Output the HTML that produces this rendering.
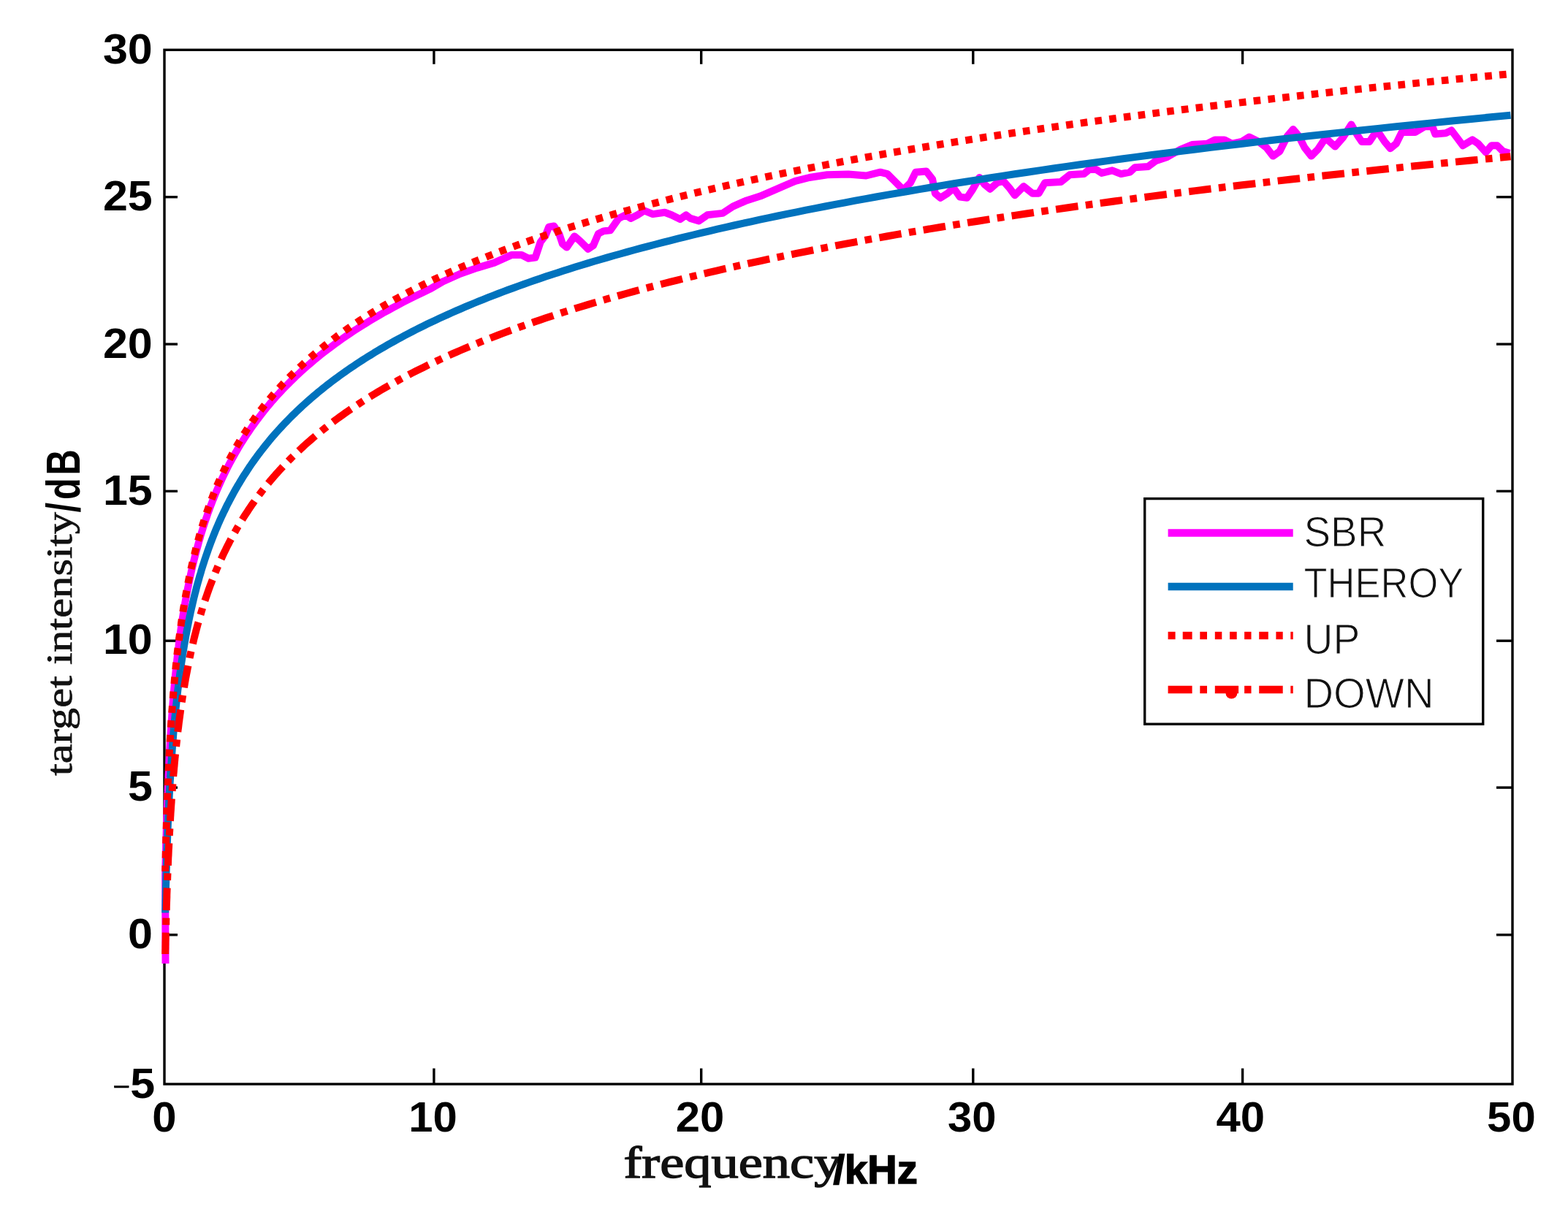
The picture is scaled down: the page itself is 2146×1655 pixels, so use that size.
<!DOCTYPE html>
<html lang="en"><head><meta charset="utf-8"><title>target intensity vs frequency</title>
<style>
html,body{margin:0;padding:0;background:#fff;}
body{width:2146px;height:1655px;overflow:hidden;}
svg{display:block;}
</style></head><body>
<svg width="2146" height="1655" viewBox="0 0 2146 1655">
<rect width="2146" height="1655" fill="#fff"/>
<g stroke="#000" stroke-width="3.4" fill="none">
<rect x="225.0" y="68.3" width="1845.0" height="1415.7"/>
<line x1="593.9" y1="1484.0" x2="593.9" y2="1462.5"/>
<line x1="593.9" y1="68.3" x2="593.9" y2="87.8"/>
<line x1="959.7" y1="1484.0" x2="959.7" y2="1462.5"/>
<line x1="959.7" y1="68.3" x2="959.7" y2="87.8"/>
<line x1="1331.8" y1="1484.0" x2="1331.8" y2="1462.5"/>
<line x1="1331.8" y1="68.3" x2="1331.8" y2="87.8"/>
<line x1="1700.6" y1="1484.0" x2="1700.6" y2="1462.5"/>
<line x1="1700.6" y1="68.3" x2="1700.6" y2="87.8"/>
<line x1="225.0" y1="269.7" x2="243.0" y2="269.7"/>
<line x1="2070.0" y1="269.7" x2="2048.0" y2="269.7"/>
<line x1="225.0" y1="471.1" x2="243.0" y2="471.1"/>
<line x1="2070.0" y1="471.1" x2="2048.0" y2="471.1"/>
<line x1="225.0" y1="672.4" x2="243.0" y2="672.4"/>
<line x1="2070.0" y1="672.4" x2="2048.0" y2="672.4"/>
<line x1="225.0" y1="877.2" x2="243.0" y2="877.2"/>
<line x1="2070.0" y1="877.2" x2="2048.0" y2="877.2"/>
<line x1="225.0" y1="1078.1" x2="243.0" y2="1078.1"/>
<line x1="2070.0" y1="1078.1" x2="2048.0" y2="1078.1"/>
<line x1="225.0" y1="1279.7" x2="243.0" y2="1279.7"/>
<line x1="2070.0" y1="1279.7" x2="2048.0" y2="1279.7"/>
</g>
<g fill="none" stroke-linecap="butt">
<polyline points="226.5,1319.0 226.2,1197.7 226.3,1194.0 226.3,1190.3 226.4,1186.6 226.5,1182.9 226.6,1179.3 226.7,1175.6 226.8,1171.9 226.9,1168.2 227.0,1164.5 227.1,1160.8 227.1,1157.1 227.2,1153.5 227.3,1149.8 227.5,1146.1 227.6,1142.4 227.7,1138.7 227.8,1135.0 227.9,1131.3 228.0,1127.7 228.1,1124.0 228.2,1120.3 228.4,1116.6 228.5,1112.9 228.6,1109.2 228.7,1105.5 228.9,1101.9 229.0,1098.2 229.1,1094.5 229.3,1090.8 229.4,1087.1 229.6,1083.4 229.7,1079.8 229.9,1076.1 230.0,1072.4 230.2,1068.7 230.4,1065.0 230.5,1061.3 230.7,1057.7 230.9,1054.0 231.0,1050.3 231.2,1046.6 231.4,1042.9 231.6,1039.2 231.8,1035.5 232.0,1031.9 232.2,1028.2 232.4,1024.5 232.6,1020.8 232.8,1017.1 233.0,1013.4 233.3,1009.8 233.5,1006.1 233.7,1002.4 234.0,998.7 234.2,995.0 234.5,991.3 234.7,987.7 235.0,984.0 235.2,980.3 235.5,976.6 235.8,972.9 236.1,969.2 236.3,965.6 236.6,961.9 236.9,958.2 237.2,954.5 237.6,950.8 237.9,947.2 238.2,943.5 238.5,939.8 238.9,936.1 239.2,932.4 239.6,928.7 239.9,925.1 240.3,921.4 240.7,917.7 241.1,914.0 241.5,910.3 241.9,906.7 242.3,903.0 242.7,899.3 243.1,895.6 243.6,891.9 244.0,888.3 244.5,884.6 244.9,880.9 245.4,877.2 245.9,873.5 246.4,869.9 246.9,866.2 247.4,862.5 247.9,858.8 248.5,855.1 249.0,851.5 249.6,847.8 250.2,844.1 250.8,840.4 251.4,836.8 252.0,833.1 252.6,829.4 253.2,825.7 253.9,822.0 254.6,818.4 255.2,814.7 255.9,811.0 256.6,807.3 257.4,803.7 258.1,800.0 258.9,796.3 259.6,792.6 260.4,789.0 261.2,785.3 262.0,781.6 262.9,777.9 263.7,774.3 264.6,770.6 265.5,766.9 266.4,763.3 267.3,759.6 268.3,755.9 269.3,752.2 270.3,748.6 271.3,744.9 272.3,741.2 273.4,737.6 274.4,733.9 275.5,730.2 276.7,726.5 277.8,722.9 279.0,719.2 280.2,715.5 281.4,711.9 282.7,708.2 283.9,704.5 285.2,700.9 286.6,697.2 287.9,693.5 289.3,689.9 290.7,686.2 292.2,682.5 293.7,678.9 295.2,675.2 296.7,671.5 298.3,667.9 299.9,664.2 301.5,660.6 303.2,656.9 304.9,653.2 306.7,649.6 308.5,645.9 310.3,642.3 312.1,638.6 314.0,634.9 316.0,631.3 318.0,627.6 320.0,624.0 322.1,620.3 324.2,616.7 326.3,613.0 328.5,609.4 330.8,605.7 333.1,602.1 335.4,598.4 337.8,594.8 340.3,591.1 342.8,587.5 345.3,583.8 347.9,580.2 350.6,576.5 353.3,572.9 356.1,569.2 358.9,565.6 361.8,561.9 364.7,558.3 367.8,554.7 370.8,551.0 374.0,547.4 377.2,543.7 380.5,540.1 383.8,536.5 387.2,532.8 390.7,529.2 394.3,525.6 398.0,521.9 401.7,518.3 405.5,514.7 409.4,511.1 413.3,507.4 417.4,503.8 421.5,500.2 425.7,496.6 430.0,492.9 434.4,489.3 438.9,485.7 443.5,482.1 448.2,478.5 453.0,474.9 457.9,471.2 462.9,467.6 468.0,464.0 473.2,460.4 478.5,456.8 483.9,453.2 489.5,449.6 495.1,446.0 500.9,442.4 506.8,438.8 512.8,435.2 519.0,431.6 525.3,428.0 531.7,424.5 538.3,420.9 545.0,417.3 551.8,413.7 558.8,410.1 565.9,406.5 573.2,403.0 580.6,399.4 588.2,395.8 606.6,385.2 630.0,374.7 653.3,366.6 676.6,359.6 699.9,349.1 713.9,349.1 723.2,353.7 732.6,352.6 739.6,331.6 746.6,322.3 751.2,310.6 758.2,309.4 765.2,319.9 769.9,333.9 775.7,338.6 786.2,323.4 793.2,329.3 804.9,340.9 811.9,336.2 818.9,319.9 825.9,316.4 835.2,315.3 846.8,298.9 856.2,294.3 863.2,298.9 872.5,294.3 881.8,288.4 893.5,293.1 909.8,290.8 919.1,294.3 930.8,300.1 939.0,294.3 944.8,298.9 956.5,302.4 968.1,294.3 989.1,291.9 1003.1,282.6 1021.8,274.4 1040.4,268.6 1071.5,255.1 1088.5,247.8 1107.8,243.0 1132.1,239.3 1161.2,238.6 1185.4,240.5 1204.8,235.7 1214.5,238.1 1224.2,247.8 1236.3,259.9 1246.0,250.2 1253.2,235.7 1267.8,234.5 1276.2,245.4 1279.9,264.8 1287.2,270.8 1296.8,264.8 1305.3,257.5 1313.8,269.6 1323.5,270.8 1330.8,259.9 1340.5,243.0 1347.7,252.7 1355.0,258.7 1364.7,250.2 1373.2,247.8 1381.7,257.5 1388.9,267.2 1401.0,255.1 1413.2,264.8 1421.6,264.8 1430.1,250.2 1451.9,249.0 1464.0,239.3 1483.4,238.1 1490.7,232.1 1500.4,232.1 1507.7,236.9 1522.2,233.3 1534.3,238.1 1546.4,235.7 1553.1,229.3 1571.3,228.0 1581.8,220.2 1597.4,214.9 1615.7,204.5 1631.4,198.0 1652.3,196.7 1662.7,191.4 1675.8,191.4 1686.2,196.7 1699.3,194.0 1709.7,187.5 1722.8,194.0 1733.2,201.9 1742.3,213.6 1751.5,207.1 1761.9,186.2 1769.8,177.1 1777.6,186.2 1785.4,201.9 1794.6,213.6 1803.7,204.5 1814.2,188.8 1827.2,200.6 1837.7,188.8 1849.4,170.5 1858.5,186.2 1863.8,194.0 1874.2,194.0 1884.6,178.4 1895.1,194.0 1902.9,203.2 1910.8,196.7 1918.6,181.0 1936.9,181.0 1949.9,173.2 1960.4,173.2 1964.3,183.6 1978.6,182.3 1986.5,178.4 1994.3,188.8 2002.1,199.3 2015.2,191.4 2023.0,196.7 2033.5,208.4 2041.3,199.3 2049.1,199.3 2057.0,207.1 2066.1,209.7" stroke="#ff00ff" stroke-width="10" stroke-linejoin="round"/>
<polyline points="226.2,1249.4 226.2,1246.8 226.3,1244.2 226.4,1241.6 226.4,1239.0 226.5,1236.4 226.5,1233.8 226.6,1231.2 226.7,1228.6 226.7,1226.0 226.8,1223.4 226.8,1220.8 226.9,1218.2 227.0,1215.6 227.0,1213.0 227.1,1210.4 227.2,1207.8 227.2,1205.2 227.3,1202.6 227.4,1200.0 227.5,1197.4 227.5,1194.8 227.6,1192.2 227.7,1189.6 227.8,1187.0 227.8,1184.4 227.9,1181.8 228.0,1179.2 228.1,1176.6 228.2,1174.0 228.3,1171.4 228.3,1168.8 228.4,1166.2 228.5,1163.6 228.6,1161.0 228.7,1158.4 228.8,1155.8 228.9,1153.2 229.0,1150.6 229.1,1148.0 229.2,1145.4 229.3,1142.8 229.4,1140.2 229.5,1137.6 229.6,1135.0 229.7,1132.4 229.8,1129.8 229.9,1127.2 230.0,1124.6 230.1,1122.0 230.2,1119.4 230.3,1116.8 230.5,1114.2 230.6,1111.6 230.7,1109.0 230.8,1106.4 231.0,1103.8 231.1,1101.2 231.2,1098.6 231.3,1096.0 231.5,1093.4 231.6,1090.8 231.7,1088.2 231.9,1085.6 232.0,1083.0 232.2,1080.4 232.3,1077.8 232.4,1075.2 232.6,1072.6 232.7,1070.0 232.9,1067.4 233.1,1064.8 233.2,1062.3 233.4,1059.7 233.5,1057.1 233.7,1054.5 233.9,1051.9 234.0,1049.3 234.2,1046.7 234.4,1044.1 234.6,1041.5 234.7,1038.9 234.9,1036.3 235.1,1033.7 235.3,1031.1 235.5,1028.5 235.7,1025.9 235.9,1023.3 236.1,1020.7 236.3,1018.1 236.5,1015.5 236.7,1012.9 236.9,1010.3 237.1,1007.7 237.3,1005.1 237.5,1002.5 237.8,999.9 238.0,997.3 238.2,994.7 238.5,992.1 238.7,989.5 238.9,986.9 239.2,984.3 239.4,981.7 239.7,979.1 239.9,976.5 240.2,973.9 240.5,971.3 240.7,968.7 241.0,966.1 241.3,963.5 241.6,960.9 241.9,958.3 242.1,955.7 242.4,953.1 242.7,950.5 243.0,947.9 243.3,945.3 243.6,942.7 244.0,940.1 244.3,937.5 244.6,934.9 244.9,932.3 245.3,929.7 245.6,927.1 246.0,924.5 246.3,921.9 246.7,919.3 247.0,916.7 247.4,914.1 247.8,911.5 248.1,908.9 248.5,906.3 248.9,903.7 249.3,901.1 249.7,898.5 250.1,895.9 250.5,893.3 250.9,890.7 251.4,888.1 251.8,885.5 252.2,882.9 252.7,880.3 253.1,877.7 253.6,875.1 254.0,872.5 254.5,869.9 255.0,867.3 255.5,864.7 256.0,862.1 256.5,859.5 257.0,856.9 257.5,854.3 258.0,851.7 258.5,849.1 259.1,846.5 259.6,843.9 260.2,841.3 260.7,838.7 261.3,836.1 261.9,833.5 262.5,830.9 263.1,828.3 263.7,825.7 264.3,823.1 264.9,820.5 265.5,817.9 266.2,815.3 266.8,812.7 267.5,810.1 268.2,807.5 268.8,804.9 269.5,802.3 270.2,799.7 270.9,797.1 271.7,794.5 272.4,791.9 273.1,789.3 273.9,786.7 274.7,784.1 275.4,781.5 276.2,778.9 277.0,776.3 277.8,773.7 278.7,771.1 279.5,768.5 280.3,765.9 281.2,763.3 282.1,760.7 283.0,758.1 283.9,755.5 284.8,752.9 285.7,750.3 286.7,747.7 287.6,745.1 288.6,742.5 289.6,739.9 290.6,737.3 291.6,734.7 292.6,732.1 293.7,729.5 294.7,726.9 295.8,724.3 296.9,721.7 298.0,719.1 299.1,716.5 300.3,713.9 301.4,711.3 302.6,708.7 303.8,706.2 305.0,703.6 306.2,701.0 307.5,698.4 308.8,695.8 310.0,693.2 311.3,690.6 312.7,688.0 314.0,685.4 315.4,682.8 316.8,680.2 318.2,677.6 319.6,675.0 321.0,672.4 322.5,669.8 324.0,667.2 325.5,664.6 327.1,662.0 328.6,659.4 330.2,656.8 331.8,654.2 333.4,651.6 335.1,649.0 336.8,646.4 338.5,643.8 340.2,641.2 341.9,638.6 343.7,636.0 345.5,633.4 347.4,630.8 349.2,628.2 351.1,625.6 353.0,623.0 355.0,620.4 357.0,617.8 359.0,615.2 361.0,612.6 363.1,610.0 365.2,607.4 367.3,604.8 369.4,602.2 371.6,599.6 373.8,597.0 376.1,594.4 378.4,591.8 380.7,589.2 383.1,586.6 385.5,584.0 387.9,581.4 390.4,578.8 392.9,576.2 395.4,573.6 398.0,571.0 400.6,568.4 403.3,565.8 406.0,563.2 408.7,560.6 411.5,558.0 414.3,555.4 417.1,552.8 420.0,550.2 423.0,547.6 426.0,545.0 429.0,542.4 432.1,539.8 435.2,537.2 438.4,534.6 441.6,532.0 444.9,529.4 448.2,526.8 451.5,524.2 455.0,521.6 458.4,519.0 461.9,516.4 465.5,513.8 469.1,511.2 472.8,508.6 476.5,506.0 480.3,503.4 484.2,500.8 488.1,498.2 492.0,495.6 496.0,493.0 500.1,490.4 504.3,487.8 508.5,485.2 512.7,482.6 517.0,480.0 521.4,477.4 525.9,474.8 530.4,472.2 535.0,469.6 539.7,467.0 544.4,464.4 549.2,461.8 554.1,459.2 559.0,456.6 564.0,454.0 569.1,451.4 574.3,448.8 579.5,446.2 584.8,443.6 590.2,441.0 595.7,438.4 601.3,435.8 606.9,433.2 612.7,430.6 618.5,428.0 624.4,425.4 630.4,422.8 636.5,420.2 642.6,417.6 648.9,415.0 655.2,412.4 661.7,409.8 668.2,407.2 674.9,404.6 681.6,402.0 688.5,399.4 695.4,396.8 702.5,394.2 709.6,391.6 716.9,389.0 724.3,386.4 731.7,383.8 739.3,381.2 747.0,378.6 754.9,376.0 762.8,373.4 770.8,370.8 779.0,368.2 787.3,365.6 795.7,363.0 804.3,360.4 813.0,357.8 821.8,355.2 830.7,352.6 839.8,350.0 849.0,347.5 858.3,344.9 867.8,342.3 877.4,339.7 887.2,337.1 897.1,334.5 907.1,331.9 917.3,329.3 927.7,326.7 938.2,324.1 948.9,321.5 959.7,318.9 970.7,316.3 981.8,313.7 993.1,311.1 1004.6,308.5 1016.3,305.9 1028.1,303.3 1040.1,300.7 1052.3,298.1 1064.7,295.5 1077.2,292.9 1090.0,290.3 1102.9,287.7 1116.0,285.1 1129.4,282.5 1142.9,279.9 1156.6,277.3 1170.5,274.7 1184.7,272.1 1199.0,269.5 1213.6,266.9 1228.3,264.3 1243.3,261.7 1258.5,259.1 1274.0,256.5 1289.7,253.9 1305.6,251.3 1321.7,248.7 1338.1,246.1 1354.7,243.5 1371.6,240.9 1388.7,238.3 1406.1,235.7 1423.8,233.1 1441.7,230.5 1459.8,227.9 1478.3,225.3 1497.0,222.7 1516.0,220.1 1535.3,217.5 1554.9,214.9 1574.7,212.3 1594.9,209.7 1615.3,207.1 1636.1,204.5 1657.2,201.9 1678.6,199.3 1700.3,196.7 1722.3,194.1 1744.6,191.5 1767.3,188.9 1790.4,186.3 1813.7,183.7 1837.5,181.1 1861.5,178.5 1886.0,175.9 1910.8,173.3 1935.9,170.7 1961.5,168.1 1987.4,165.5 2013.7,162.9 2040.4,160.3 2067.5,157.7" stroke="#0072bd" stroke-width="10" stroke-linejoin="round"/>
<polyline points="2067.5,101.1 2040.4,103.7 2013.7,106.3 1987.4,108.9 1961.5,111.5 1935.9,114.1 1910.8,116.7 1886.0,119.3 1861.5,121.9 1837.5,124.5 1813.7,127.1 1790.4,129.7 1767.3,132.3 1744.6,134.9 1722.3,137.5 1700.3,140.1 1678.6,142.7 1657.2,145.3 1636.1,147.9 1615.3,150.5 1594.9,153.1 1574.7,155.7 1554.9,158.3 1535.3,160.9 1516.0,163.5 1497.0,166.1 1478.3,168.7 1459.8,171.3 1441.7,173.9 1423.8,176.5 1406.1,179.1 1388.7,181.7 1371.6,184.3 1354.7,186.9 1338.1,189.5 1321.7,192.1 1305.6,194.6 1289.7,197.2 1274.0,199.8 1258.5,202.4 1243.3,205.0 1228.3,207.6 1213.6,210.2 1199.0,212.8 1184.7,215.4 1170.5,218.0 1156.6,220.6 1142.9,223.2 1129.4,225.8 1116.0,228.4 1102.9,231.0 1090.0,233.6 1077.2,236.2 1064.7,238.8 1052.3,241.4 1040.1,244.0 1028.1,246.6 1016.3,249.2 1004.6,251.8 993.1,254.4 981.8,257.0 970.7,259.6 959.7,262.2 948.9,264.8 938.2,267.4 927.7,270.0 917.3,272.6 907.1,275.2 897.1,277.8 887.2,280.4 877.4,283.0 867.8,285.6 858.3,288.2 849.0,290.8 839.8,293.4 830.7,296.0 821.8,298.6 813.0,301.2 804.3,303.8 795.7,306.4 787.3,309.0 779.0,311.6 770.8,314.2 762.8,316.8 754.9,319.4 747.0,322.0 739.3,324.6 731.7,327.2 724.3,329.8 716.9,332.4 709.6,335.0 702.5,337.6 695.4,340.2 688.5,342.8 681.6,345.4 674.9,348.0 668.2,350.6 661.7,353.2 655.2,355.8 648.9,358.4 642.6,361.0 636.5,363.6 630.4,366.2 624.4,368.8 618.5,371.4 612.7,374.0 606.9,376.6 601.3,379.2 595.7,381.8 590.2,384.4 584.8,387.0 579.5,389.6 574.3,392.2 569.1,394.8 564.0,397.4 559.0,400.0 554.1,402.6 549.2,405.2 544.4,407.8 539.7,410.4 535.0,413.0 530.4,415.6 525.9,418.2 521.4,420.8 517.0,423.4 512.7,426.0 508.5,428.6 504.3,431.2 500.1,433.8 496.0,436.4 492.0,439.0 488.1,441.6 484.2,444.2 480.3,446.8 476.5,449.4 472.8,452.0 469.1,454.6 465.5,457.2 461.9,459.8 458.4,462.4 455.0,465.0 451.5,467.6 448.2,470.2 444.9,472.8 441.6,475.4 438.4,478.0 435.2,480.6 432.1,483.2 429.0,485.8 426.0,488.4 423.0,491.0 420.0,493.6 417.1,496.2 414.3,498.8 411.5,501.4 408.7,504.0 406.0,506.6 403.3,509.2 400.6,511.8 398.0,514.4 395.4,517.0 392.9,519.6 390.4,522.2 387.9,524.8 385.5,527.4 383.1,530.0 380.7,532.6 378.4,535.2 376.1,537.8 373.8,540.4 371.6,543.0 369.4,545.6 367.3,548.2 365.2,550.7 363.1,553.3 361.0,555.9 359.0,558.5 357.0,561.1 355.0,563.7 353.0,566.3 351.1,568.9 349.2,571.5 347.4,574.1 345.5,576.7 343.7,579.3 341.9,581.9 340.2,584.5 338.5,587.1 336.8,589.7 335.1,592.3 333.4,594.9 331.8,597.5 330.2,600.1 328.6,602.7 327.1,605.3 325.5,607.9 324.0,610.5 322.5,613.1 321.0,615.7 319.6,618.3 318.2,620.9 316.8,623.5 315.4,626.1 314.0,628.7 312.7,631.3 311.3,633.9 310.0,636.5 308.8,639.1 307.5,641.7 306.2,644.3 305.0,646.9 303.8,649.5 302.6,652.1 301.4,654.7 300.3,657.3 299.1,659.9 298.0,662.5 296.9,665.1 295.8,667.7 294.7,670.3 293.7,672.9 292.6,675.5 291.6,678.1 290.6,680.7 289.6,683.3 288.6,685.9 287.6,688.5 286.7,691.1 285.7,693.7 284.8,696.3 283.9,698.9 283.0,701.5 282.1,704.1 281.2,706.7 280.3,709.3 279.5,711.9 278.7,714.5 277.8,717.1 277.0,719.7 276.2,722.3 275.4,724.9 274.7,727.5 273.9,730.1 273.1,732.7 272.4,735.3 271.7,737.9 270.9,740.5 270.2,743.1 269.5,745.7 268.8,748.3 268.2,750.9 267.5,753.5 266.8,756.1 266.2,758.7 265.5,761.3 264.9,763.9 264.3,766.5 263.7,769.1 263.1,771.7 262.5,774.3 261.9,776.9 261.3,779.5 260.7,782.1 260.2,784.7 259.6,787.3 259.1,789.9 258.5,792.5 258.0,795.1 257.5,797.7 257.0,800.3 256.5,802.9 256.0,805.5 255.5,808.1 255.0,810.7 254.5,813.3 254.0,815.9 253.6,818.5 253.1,821.1 252.7,823.7 252.2,826.3 251.8,828.9 251.4,831.5 250.9,834.1 250.5,836.7 250.1,839.3 249.7,841.9 249.3,844.5 248.9,847.1 248.5,849.7 248.1,852.3 247.8,854.9 247.4,857.5 247.0,860.1 246.7,862.7 246.3,865.3 246.0,867.9 245.6,870.5 245.3,873.1 244.9,875.7 244.6,878.3 244.3,880.9 244.0,883.5 243.6,886.1 243.3,888.7 243.0,891.3 242.7,893.9 242.4,896.5 242.1,899.1 241.9,901.7 241.6,904.3 241.3,906.9 241.0,909.4 240.7,912.0 240.5,914.6 240.2,917.2 239.9,919.8 239.7,922.4 239.4,925.0 239.2,927.6 238.9,930.2 238.7,932.8 238.5,935.4 238.2,938.0 238.0,940.6 237.8,943.2 237.5,945.8 237.3,948.4 237.1,951.0 236.9,953.6 236.7,956.2 236.5,958.8 236.3,961.4 236.1,964.0 235.9,966.6 235.7,969.2 235.5,971.8 235.3,974.4 235.1,977.0 234.9,979.6 234.7,982.2 234.6,984.8 234.4,987.4 234.2,990.0 234.0,992.6 233.9,995.2 233.7,997.8 233.5,1000.4 233.4,1003.0 233.2,1005.6 233.1,1008.2 232.9,1010.8 232.7,1013.4 232.6,1016.0 232.4,1018.6 232.3,1021.2 232.2,1023.8 232.0,1026.4 231.9,1029.0 231.7,1031.6 231.6,1034.2 231.5,1036.8 231.3,1039.4 231.2,1042.0 231.1,1044.6 231.0,1047.2 230.8,1049.8 230.7,1052.4 230.6,1055.0 230.5,1057.6 230.3,1060.2 230.2,1062.8 230.1,1065.4 230.0,1068.0 229.9,1070.6 229.8,1073.2 229.7,1075.8 229.6,1078.4 229.5,1081.0 229.4,1083.6 229.3,1086.2 229.2,1088.8 229.1,1091.4 229.0,1094.0 228.9,1096.6 228.8,1099.2 228.7,1101.8 228.6,1104.4 228.5,1107.0 228.4,1109.6 228.3,1112.2 228.3,1114.8 228.2,1117.4 228.1,1120.0 228.0,1122.6 227.9,1125.2 227.8,1127.8 227.8,1130.4 227.7,1133.0 227.6,1135.6 227.5,1138.2 227.5,1140.8 227.4,1143.4 227.3,1146.0 227.2,1148.6 227.2,1151.2 227.1,1153.8 227.0,1156.4 227.0,1159.0 226.9,1161.6 226.8,1164.2 226.8,1166.8 226.7,1169.4 226.7,1172.0 226.6,1174.6 226.5,1177.2 226.5,1179.8 226.4,1182.4 226.4,1185.0 226.3,1187.6 226.2,1190.2 226.2,1192.8" stroke="#ff0000" stroke-width="10" stroke-dasharray="9.6 10.3" stroke-dashoffset="14"/>
<polyline points="2067.5,214.3 2040.4,216.9 2013.7,219.5 1987.4,222.1 1961.5,224.7 1935.9,227.3 1910.8,229.9 1886.0,232.5 1861.5,235.1 1837.5,237.7 1813.7,240.3 1790.4,242.9 1767.3,245.5 1744.6,248.1 1722.3,250.7 1700.3,253.3 1678.6,255.9 1657.2,258.5 1636.1,261.1 1615.3,263.7 1594.9,266.3 1574.7,268.9 1554.9,271.5 1535.3,274.1 1516.0,276.7 1497.0,279.3 1478.3,281.9 1459.8,284.5 1441.7,287.1 1423.8,289.7 1406.1,292.3 1388.7,294.9 1371.6,297.5 1354.7,300.1 1338.1,302.7 1321.7,305.3 1305.6,307.9 1289.7,310.5 1274.0,313.1 1258.5,315.7 1243.3,318.3 1228.3,320.9 1213.6,323.5 1199.0,326.1 1184.7,328.7 1170.5,331.3 1156.6,333.9 1142.9,336.5 1129.4,339.1 1116.0,341.7 1102.9,344.3 1090.0,346.9 1077.2,349.5 1064.7,352.1 1052.3,354.7 1040.1,357.3 1028.1,359.9 1016.3,362.5 1004.6,365.1 993.1,367.7 981.8,370.3 970.7,372.9 959.7,375.5 948.9,378.1 938.2,380.7 927.7,383.3 917.3,385.9 907.1,388.5 897.1,391.1 887.2,393.7 877.4,396.3 867.8,398.9 858.3,401.5 849.0,404.1 839.8,406.7 830.7,409.3 821.8,411.9 813.0,414.5 804.3,417.1 795.7,419.7 787.3,422.3 779.0,424.9 770.8,427.5 762.8,430.1 754.9,432.7 747.0,435.3 739.3,437.9 731.7,440.5 724.3,443.1 716.9,445.7 709.6,448.3 702.5,450.9 695.4,453.5 688.5,456.1 681.6,458.7 674.9,461.3 668.2,463.9 661.7,466.5 655.2,469.1 648.9,471.7 642.6,474.3 636.5,476.9 630.4,479.5 624.4,482.1 618.5,484.7 612.7,487.3 606.9,489.9 601.3,492.5 595.7,495.1 590.2,497.7 584.8,500.3 579.5,502.9 574.3,505.5 569.1,508.0 564.0,510.6 559.0,513.2 554.1,515.8 549.2,518.4 544.4,521.0 539.7,523.6 535.0,526.2 530.4,528.8 525.9,531.4 521.4,534.0 517.0,536.6 512.7,539.2 508.5,541.8 504.3,544.4 500.1,547.0 496.0,549.6 492.0,552.2 488.1,554.8 484.2,557.4 480.3,560.0 476.5,562.6 472.8,565.2 469.1,567.8 465.5,570.4 461.9,573.0 458.4,575.6 455.0,578.2 451.5,580.8 448.2,583.4 444.9,586.0 441.6,588.6 438.4,591.2 435.2,593.8 432.1,596.4 429.0,599.0 426.0,601.6 423.0,604.2 420.0,606.8 417.1,609.4 414.3,612.0 411.5,614.6 408.7,617.2 406.0,619.8 403.3,622.4 400.6,625.0 398.0,627.6 395.4,630.2 392.9,632.8 390.4,635.4 387.9,638.0 385.5,640.6 383.1,643.2 380.7,645.8 378.4,648.4 376.1,651.0 373.8,653.6 371.6,656.2 369.4,658.8 367.3,661.4 365.2,664.0 363.1,666.6 361.0,669.2 359.0,671.8 357.0,674.4 355.0,677.0 353.0,679.6 351.1,682.2 349.2,684.8 347.4,687.4 345.5,690.0 343.7,692.6 341.9,695.2 340.2,697.8 338.5,700.4 336.8,703.0 335.1,705.6 333.4,708.2 331.8,710.8 330.2,713.4 328.6,716.0 327.1,718.6 325.5,721.2 324.0,723.8 322.5,726.4 321.0,729.0 319.6,731.6 318.2,734.2 316.8,736.8 315.4,739.4 314.0,742.0 312.7,744.6 311.3,747.2 310.0,749.8 308.8,752.4 307.5,755.0 306.2,757.6 305.0,760.2 303.8,762.8 302.6,765.4 301.4,768.0 300.3,770.6 299.1,773.2 298.0,775.8 296.9,778.4 295.8,781.0 294.7,783.6 293.7,786.2 292.6,788.8 291.6,791.4 290.6,794.0 289.6,796.6 288.6,799.2 287.6,801.8 286.7,804.4 285.7,807.0 284.8,809.6 283.9,812.2 283.0,814.8 282.1,817.4 281.2,820.0 280.3,822.6 279.5,825.2 278.7,827.8 277.8,830.4 277.0,833.0 276.2,835.6 275.4,838.2 274.7,840.8 273.9,843.4 273.1,846.0 272.4,848.6 271.7,851.2 270.9,853.8 270.2,856.4 269.5,859.0 268.8,861.6 268.2,864.1 267.5,866.7 266.8,869.3 266.2,871.9 265.5,874.5 264.9,877.1 264.3,879.7 263.7,882.3 263.1,884.9 262.5,887.5 261.9,890.1 261.3,892.7 260.7,895.3 260.2,897.9 259.6,900.5 259.1,903.1 258.5,905.7 258.0,908.3 257.5,910.9 257.0,913.5 256.5,916.1 256.0,918.7 255.5,921.3 255.0,923.9 254.5,926.5 254.0,929.1 253.6,931.7 253.1,934.3 252.7,936.9 252.2,939.5 251.8,942.1 251.4,944.7 250.9,947.3 250.5,949.9 250.1,952.5 249.7,955.1 249.3,957.7 248.9,960.3 248.5,962.9 248.1,965.5 247.8,968.1 247.4,970.7 247.0,973.3 246.7,975.9 246.3,978.5 246.0,981.1 245.6,983.7 245.3,986.3 244.9,988.9 244.6,991.5 244.3,994.1 244.0,996.7 243.6,999.3 243.3,1001.9 243.0,1004.5 242.7,1007.1 242.4,1009.7 242.1,1012.3 241.9,1014.9 241.6,1017.5 241.3,1020.1 241.0,1022.7 240.7,1025.3 240.5,1027.9 240.2,1030.5 239.9,1033.1 239.7,1035.7 239.4,1038.3 239.2,1040.9 238.9,1043.5 238.7,1046.1 238.5,1048.7 238.2,1051.3 238.0,1053.9 237.8,1056.5 237.5,1059.1 237.3,1061.7 237.1,1064.3 236.9,1066.9 236.7,1069.5 236.5,1072.1 236.3,1074.7 236.1,1077.3 235.9,1079.9 235.7,1082.5 235.5,1085.1 235.3,1087.7 235.1,1090.3 234.9,1092.9 234.7,1095.5 234.6,1098.1 234.4,1100.7 234.2,1103.3 234.0,1105.9 233.9,1108.5 233.7,1111.1 233.5,1113.7 233.4,1116.3 233.2,1118.9 233.1,1121.5 232.9,1124.1 232.7,1126.7 232.6,1129.3 232.4,1131.9 232.3,1134.5 232.2,1137.1 232.0,1139.7 231.9,1142.3 231.7,1144.9 231.6,1147.5 231.5,1150.1 231.3,1152.7 231.2,1155.3 231.1,1157.9 231.0,1160.5 230.8,1163.1 230.7,1165.7 230.6,1168.3 230.5,1170.9 230.3,1173.5 230.2,1176.1 230.1,1178.7 230.0,1181.3 229.9,1183.9 229.8,1186.5 229.7,1189.1 229.6,1191.7 229.5,1194.3 229.4,1196.9 229.3,1199.5 229.2,1202.1 229.1,1204.7 229.0,1207.3 228.9,1209.9 228.8,1212.5 228.7,1215.1 228.6,1217.7 228.5,1220.3 228.4,1222.8 228.3,1225.4 228.3,1228.0 228.2,1230.6 228.1,1233.2 228.0,1235.8 227.9,1238.4 227.8,1241.0 227.8,1243.6 227.7,1246.2 227.6,1248.8 227.5,1251.4 227.5,1254.0 227.4,1256.6 227.3,1259.2 227.2,1261.8 227.2,1264.4 227.1,1267.0 227.0,1269.6 227.0,1272.2 226.9,1274.8 226.8,1277.4 226.8,1280.0 226.7,1282.6 226.7,1285.2 226.6,1287.8 226.5,1290.4 226.5,1293.0 226.4,1295.6 226.4,1298.2 226.3,1300.8 226.2,1303.4 226.2,1306.0" stroke="#ff0000" stroke-width="10" stroke-dasharray="30.6 10.5 9.6 10.5" stroke-dashoffset="16"/>
</g>
<g font-family="'Liberation Sans', sans-serif" font-weight="bold" font-size="57" fill="#000">
<text transform="translate(208.8,86.9) scale(1.07,1)" font-size="57" text-anchor="end">30</text>
<text transform="translate(208.8,287.9) scale(1.07,1)" font-size="57" text-anchor="end">25</text>
<text transform="translate(208.8,489.6) scale(1.07,1)" font-size="57" text-anchor="end">20</text>
<text transform="translate(208.8,690.7) scale(1.07,1)" font-size="57" text-anchor="end">15</text>
<text transform="translate(208.8,895.1) scale(1.07,1)" font-size="57" text-anchor="end">10</text>
<text transform="translate(208.8,1096.2) scale(1.07,1)" font-size="57" text-anchor="end">5</text>
<text transform="translate(208.8,1298.4) scale(1.07,1)" font-size="57" text-anchor="end">0</text>
<text transform="translate(212.2,1502.6) scale(1.07,1)" font-size="57" text-anchor="end"><tspan font-family="'DejaVu Sans', sans-serif" font-weight="200" font-size="70" dy="4.7" stroke="#000" stroke-width="0.5">-</tspan><tspan dy="-4.7" dx="-1.5">5</tspan></text>
<text transform="translate(225,1549.3) scale(1.05,1)" text-anchor="middle">0</text>
<text transform="translate(592.5,1549.3) scale(1.05,1)" text-anchor="middle">10</text>
<text transform="translate(958,1549.3) scale(1.05,1)" text-anchor="middle">20</text>
<text transform="translate(1330.3,1549.3) scale(1.05,1)" text-anchor="middle">30</text>
<text transform="translate(1697.7,1549.3) scale(1.05,1)" text-anchor="middle">40</text>
<text transform="translate(2068.4,1549.3) scale(1.05,1)" text-anchor="middle">50</text>
</g>
<text transform="translate(853.5,1612.3) scale(1.222,1)" font-family="'Liberation Serif', serif" font-size="61" fill="#111" stroke="#111" stroke-width="1.4">frequency</text>
<text transform="translate(1140.5,1620) scale(1.0,1)" font-family="'Liberation Sans', sans-serif" font-size="56" font-weight="bold" fill="#000" stroke="#000" stroke-width="1.6">/kHz</text>
<text transform="translate(98,1062) rotate(-90) scale(1.213,1)" font-family="'Liberation Serif', serif" font-size="50" fill="#111" stroke="#111" stroke-width="0.7">target intensity</text>
<text transform="translate(108.5,701.5) rotate(-90) scale(0.76,1)" font-family="'Liberation Sans', sans-serif" font-size="64" font-weight="bold" fill="#000" letter-spacing="5.2">/dB</text>
<rect x="1566.7" y="682.6" width="463" height="308.6" fill="#fff" stroke="#000" stroke-width="3.4"/>
<g fill="none" stroke-width="10.4" stroke-linecap="butt">
<line x1="1598.6" y1="729.5" x2="1769.7" y2="729.5" stroke="#ff00ff"/>
<line x1="1598.6" y1="803" x2="1769.7" y2="803" stroke="#0072bd"/>
<line x1="1598.6" y1="870" x2="1608.6" y2="870" stroke="#ff0000"/>
<line x1="1618.7" y1="870" x2="1631.6" y2="870" stroke="#ff0000"/>
<line x1="1642.3" y1="870" x2="1652" y2="870" stroke="#ff0000"/>
<line x1="1662.8" y1="870" x2="1672.3" y2="870" stroke="#ff0000"/>
<line x1="1683" y1="870" x2="1692.7" y2="870" stroke="#ff0000"/>
<line x1="1703.1" y1="870" x2="1712.5" y2="870" stroke="#ff0000"/>
<line x1="1723.2" y1="870" x2="1735.8" y2="870" stroke="#ff0000"/>
<line x1="1746.4" y1="870" x2="1755.7" y2="870" stroke="#ff0000"/>
<line x1="1766.3" y1="870" x2="1769.7" y2="870" stroke="#ff0000"/>
<line x1="1598.6" y1="944" x2="1631.6" y2="944" stroke="#ff0000"/>
<line x1="1642.3" y1="944" x2="1652" y2="944" stroke="#ff0000"/>
<line x1="1662.8" y1="944" x2="1695.1" y2="944" stroke="#ff0000"/>
<line x1="1703.1" y1="944" x2="1712.5" y2="944" stroke="#ff0000"/>
<line x1="1723.2" y1="944" x2="1755.7" y2="944" stroke="#ff0000"/>
<line x1="1766.3" y1="944" x2="1769.7" y2="944" stroke="#ff0000"/>
</g>
<circle cx="1685.4" cy="948.5" r="8" fill="#ff0000"/>
<g font-family="'Liberation Sans', sans-serif" font-size="57.5" fill="#111" stroke="#fff" stroke-width="1.1">
<text transform="translate(1784.5,747.7) scale(0.955,1)">SBR</text>
<text transform="translate(1784.5,818) scale(0.913,1)">THEROY</text>
<text transform="translate(1784.5,895) scale(0.961,1)">UP</text>
<text transform="translate(1784.5,969) scale(0.978,1)">DOWN</text>
</g>
</svg>
</body></html>
